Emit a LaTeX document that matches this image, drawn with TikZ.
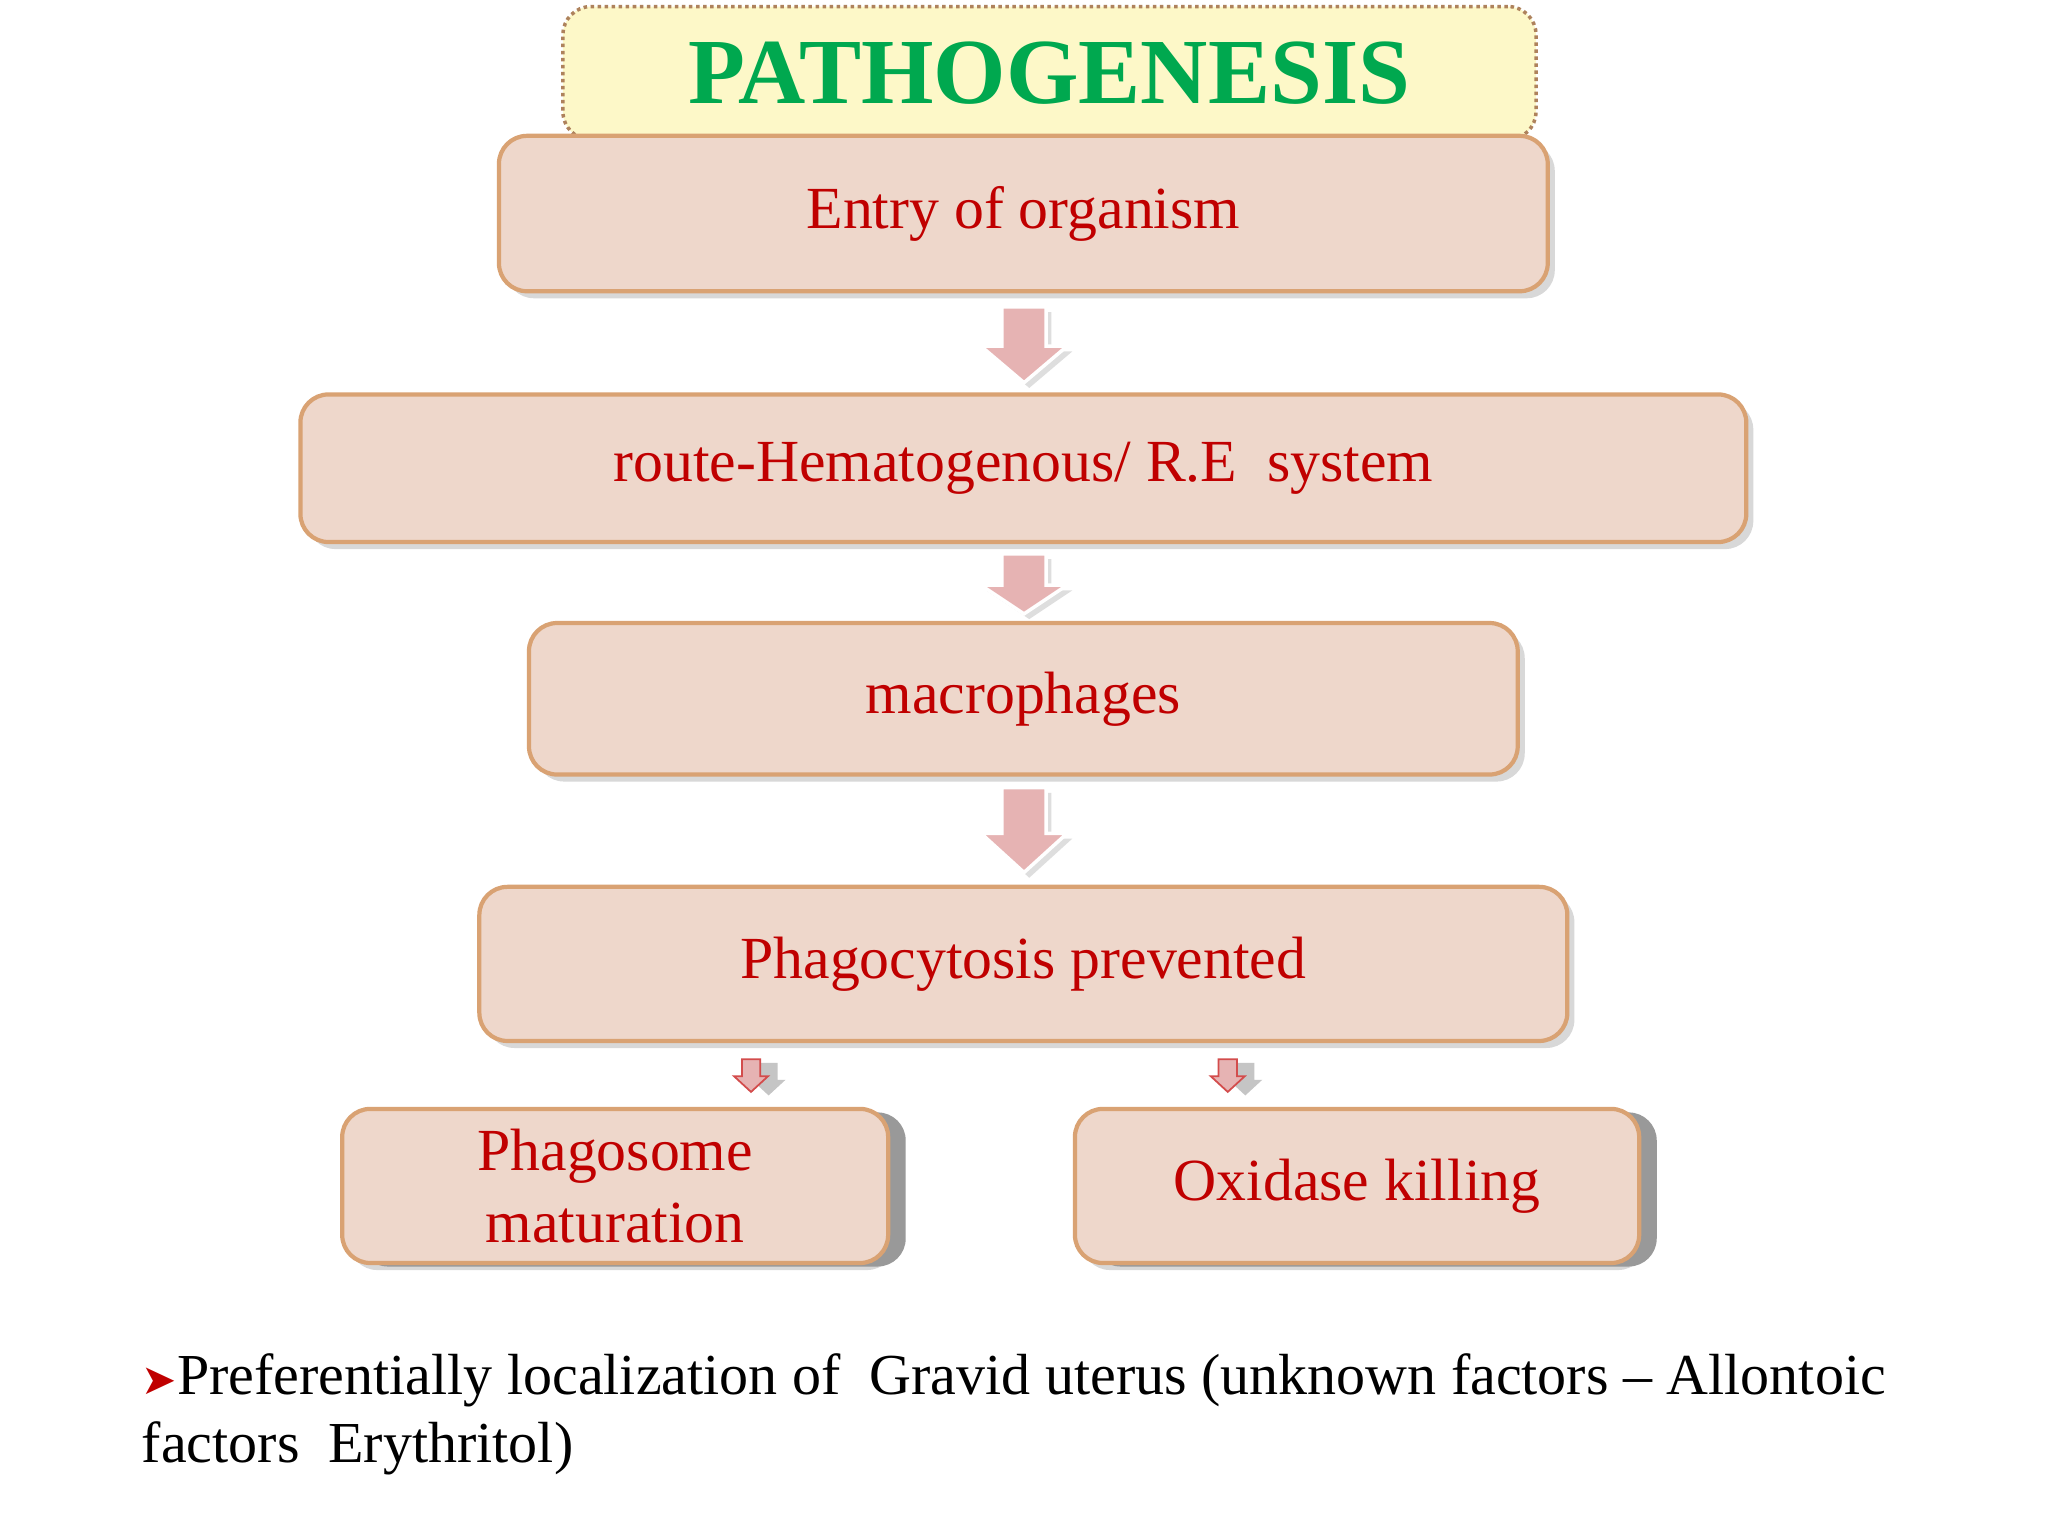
\documentclass[tikz,border=0pt]{standalone}
\usepackage{fontspec}
\setmainfont{Liberation Serif}
\newfontfamily\symfont{DejaVu Sans}
\usetikzlibrary{shadows}
\definecolor{boxfill}{HTML}{EED7CB}
\definecolor{boxline}{HTML}{D9A273}
\definecolor{txtred}{HTML}{C00000}
\definecolor{titlegreen}{HTML}{00A84F}
\definecolor{titlefill}{HTML}{FDF8C8}
\definecolor{arrowpink}{HTML}{E6B3B3}
% #1 x, #2 top y, #3 bottom y, #4 shaft half width, #5 head half width, #6 head length
\newcommand\myblockarrow[7]{%
  \path[#7] (#1-#4,#2) -- (#1+#4,#2) -- (#1+#4,#3-#6) -- (#1+#5,#3-#6) -- (#1,#3)
    -- (#1-#5,#3-#6) -- (#1-#4,#3-#6) -- cycle;}
\begin{document}
\begin{tikzpicture}[x=0.01306cm,y=-0.01306cm,
  flowbox/.style={draw=boxline,line width=1.2pt,fill=boxfill,rounded corners=8pt,
     drop shadow={shadow xshift=2pt,shadow yshift=-2pt,fill=black!30},
     text=txtred,font=\fontsize{17}{20.5}\selectfont,align=center},
  sidebox/.style={flowbox,drop shadow={shadow xshift=5pt,shadow yshift=-1pt,fill=black!40,opacity=1}},
  bigarrow/.style={draw=white,line width=1pt,fill=arrowpink,
     drop shadow={shadow xshift=1.5pt,shadow yshift=-1.5pt,fill=black!25}},
  smallarrow/.style={draw=txtred!70,line width=0.5pt,fill=arrowpink,
     drop shadow={shadow xshift=5pt,shadow yshift=-1pt,fill=black!45}}]
\useasboundingbox (0,0) rectangle (1568,1176);
\fill[white] (0,0) rectangle (1568,1176);
\node[draw=boxline!80!black,densely dotted,line width=1pt,fill=titlefill,rounded corners=8pt,
  minimum width=745*0.01306cm,minimum height=102*0.01306cm,text=titlegreen,
  font=\fontsize{26.5}{32}\selectfont\bfseries] (title) at (803.5,56) {PATHOGENESIS};
\node[flowbox,minimum width=803*0.01306cm,minimum height=119*0.01306cm] (entry) at (783.5,163.5) {Entry of organism};
\node[flowbox,minimum width=1107*0.01306cm,minimum height=113*0.01306cm] (route) at (783.5,358.5) {route-Hematogenous/ R.E\ \ system};
\node[flowbox,minimum width=757*0.01306cm,minimum height=116*0.01306cm] (macro) at (783.5,535) {macrophages};
\node[flowbox,minimum width=833*0.01306cm,minimum height=118*0.01306cm] (phago) at (783.5,738) {Phagocytosis prevented};
\node[sidebox,minimum width=418*0.01306cm,minimum height=118*0.01306cm] (soma) at (471,908) {Phagosome\\maturation};
\node[sidebox,minimum width=432*0.01306cm,minimum height=118*0.01306cm] (oxid) at (1039,908) {Oxidase killing};
\myblockarrow{784}{235}{293}{17}{33}{28}{bigarrow}
\myblockarrow{784}{424}{470}{17}{33}{22}{bigarrow}
\myblockarrow{784}{603}{668}{17}{33}{30}{bigarrow}
\myblockarrow{575}{811}{836}{7}{13}{12}{smallarrow}
\myblockarrow{940}{811}{836}{7}{13}{12}{smallarrow}
\node[anchor=north west,align=left,inner sep=0pt,
  font=\fontsize{16.5}{19.2}\selectfont] (note) at (108,1036)
  {{\color{txtred}\symfont\fontsize{12}{19}\selectfont ➤}Preferentially localization of\ \ Gravid uterus (unknown factors -- Allontoic\\factors\ \ Erythritol)};
\end{tikzpicture}
\end{document}
